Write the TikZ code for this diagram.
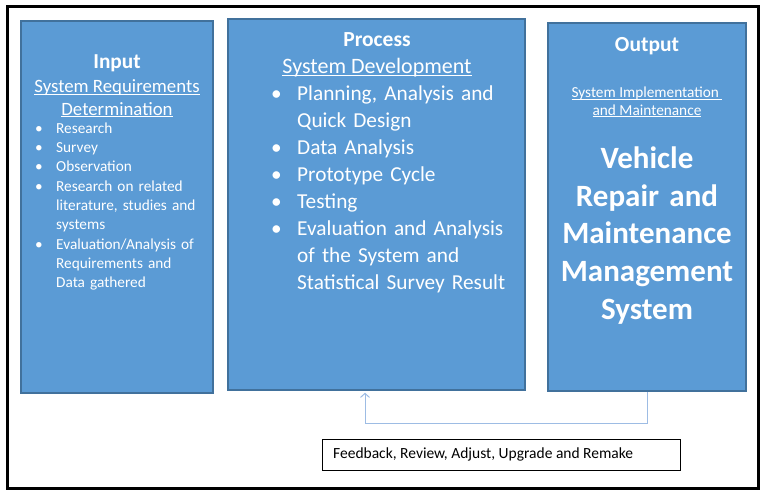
\documentclass[tikz,border=0pt]{standalone}
\usepackage{fontspec}
\setmainfont{Carlito}
\usetikzlibrary{arrows.meta}
\setlength{\parindent}{0pt}
\definecolor{boxfill}{HTML}{5B9BD5}
\definecolor{boxline}{HTML}{41719C}
\definecolor{fbline}{HTML}{9DBCE4}
\newcommand\myul[1]{\setbox0\hbox{#1}\rlap{\rule[-2.2pt]{\wd0}{0.8pt}}\box0}
\newcommand\bitem[2]{\hangindent=#1\hangafter=1\noindent\makebox[#1][l]{\textbullet}#2\par}
\tikzset{
  bluebox/.style={draw=boxline, line width=1.5pt, fill=boxfill, inner sep=0pt},
  wtext/.style={text=white, inner sep=0pt, anchor=base},
  wlist/.style={text=white, inner sep=0pt, anchor=base west, align=left},
  fbbox/.style={draw=black, line width=1pt, fill=white, inner sep=0pt},
  fbarrow/.style={draw=fbline, line width=1pt, -{Straight Barb[length=4pt,width=9pt]}}
}
\begin{document}
\begin{tikzpicture}[x=1pt,y=-1pt]
\useasboundingbox (0,0) rectangle (768,498);
\fill[white] (0,0) rectangle (768,498);
\draw[line width=3pt] (7,6) rectangle (758,488);
% boxes
\node[bluebox, minimum width=192pt, minimum height=372pt] (in) at (117,207) {};
\node[bluebox, minimum width=297pt, minimum height=371pt] (proc) at (376.5,204.5) {};
\node[bluebox, minimum width=198pt, minimum height=368pt] (out) at (647,207) {};
% input text
\node[wtext, font=\fontsize{21.3}{25}\selectfont\bfseries] (inhead) at (117,68) {Input};
\node[wtext, font=\fontsize{18.8}{23}\selectfont] (insub1) at (117,92.5) {\myul{System Requirements}};
\node[wtext, font=\fontsize{18.8}{23}\selectfont] (insub2) at (117,115) {\myul{Determination}};
\node[wlist, text width=175pt, font=\fontsize{15.3}{19.3}\selectfont] (inlist) at (35,133.3) {%
\bitem{21pt}{Research}%
\bitem{21pt}{Survey}%
\bitem{21pt}{Observation}%
\bitem{21pt}{Research on related\newline literature, studies and\newline systems}%
\bitem{21pt}{Evaluation/Analysis of\newline Requirements and\newline Data gathered}};
% process text
\node[wtext, font=\fontsize{21.5}{25}\selectfont\bfseries] (prochead) at (377,46.7) {Process};
\node[wtext, font=\fontsize{22}{26}\selectfont] (procsub) at (377,73.3) {\myul{System Development}};
\node[wlist, text width=250pt, font=\fontsize{21.3}{26.9}\selectfont] (proclist) at (271,100.7) {%
\bitem{26pt}{Planning, Analysis and\newline Quick Design}%
\bitem{26pt}{Data Analysis}%
\bitem{26pt}{Prototype Cycle}%
\bitem{26pt}{Testing}%
\bitem{26pt}{Evaluation and Analysis\newline of the System and\newline Statistical Survey Result}};
% output text
\node[wtext, font=\fontsize{21.5}{25}\selectfont\bfseries] (outhead) at (647,51) {Output};
\node[wtext, font=\fontsize{15.3}{17.3}\selectfont] (outsub1) at (647,97.7) {\myul{System Implementation\ }};
\node[wtext, font=\fontsize{15.3}{17.3}\selectfont] (outsub2) at (647,115) {\myul{and Maintenance}};
\node[wtext, text width=190pt, align=center, font=\fontsize{31}{37.7}\selectfont\bfseries] (outbig) at (647,168.5) {Vehicle\\Repair and\\Maintenance\\Management\\System};
% feedback
\node[fbbox, minimum width=358pt, minimum height=31pt] (fb) at (501,454.5) {};
\node[text=black, inner sep=0pt, anchor=base west, font=\fontsize{15.5}{18}\selectfont] (fbtext) at (333,458.3) {Feedback, Review, Adjust, Upgrade and Remake};
\coordinate (fbturn) at (365,423);
\draw[fbarrow] (out.south) |- (fbturn) -- ([yshift=-2pt]fbturn |- proc.south);
\end{tikzpicture}
\end{document}
